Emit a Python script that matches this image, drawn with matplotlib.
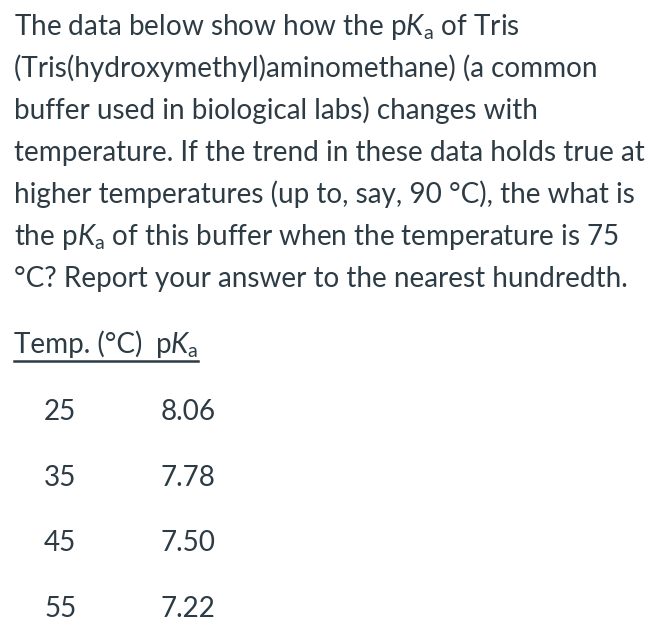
import matplotlib
matplotlib.use("Agg")
import matplotlib.pyplot as plt
from matplotlib.lines import Line2D

# question text, one entry per rendered line
question_lines = [
    r"The data below show how the p$K_\mathrm{a}$ of Tris",
    "(Tris(hydroxymethyl)aminomethane) (a common",
    "buffer used in biological labs) changes with",
    "temperature. If the trend in these data holds true at",
    "higher temperatures (up to, say, 90 °C), the what is",
    r"the p$K_\mathrm{a}$ of this buffer when the temperature is 75",
    "°C? Report your answer to the nearest hundredth.",
]

temps = ["25", "35", "45", "55"]
pka = ["8.06", "7.78", "7.50", "7.22"]

plt.rcParams["font.family"] = ["Lato", "DejaVu Sans"]
plt.rcParams["mathtext.fontset"] = "custom"
plt.rcParams["mathtext.rm"] = "Lato"
plt.rcParams["mathtext.it"] = "Lato:italic"

W, H = 668, 644
color = "#2d3b45"
fs = 20.1

fig = plt.figure(figsize=(W / 100, H / 100), dpi=100)


def put(x, y, s, **kw):
    # x, y in pixels from top-left, y is the baseline
    fig.text(x / W, 1 - y / H, s, fontsize=fs, color=color,
             va="baseline", ha="left", **kw)


for i, line in enumerate(question_lines):
    put(14, 35 + 42 * i, line)

# table header
put(14, 353, "Temp. (°C)")
put(155, 353, r"p$K_\mathrm{a}$")
fig.add_artist(Line2D([14 / W, 198 / W], [1 - 361 / H, 1 - 361 / H],
                      color=color, lw=1.8))

for i, (t, p) in enumerate(zip(temps, pka)):
    y = 420 + 65.7 * i
    put(44, y, t)
    put(161, y, p)

plt.savefig("out.png", dpi=100)
